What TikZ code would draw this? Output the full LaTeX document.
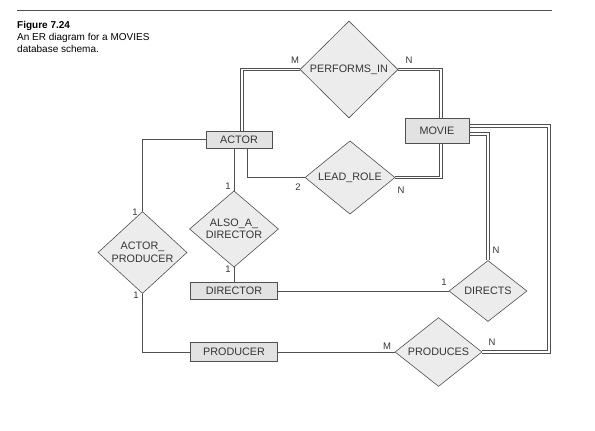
\documentclass[tikz,border=0pt]{standalone}
\usepackage{fontspec}
\setmainfont{Liberation Sans}
\usepackage{tikz}
\usetikzlibrary{shapes.geometric,backgrounds}

\definecolor{linegray}{HTML}{505050}
\definecolor{boxfill}{HTML}{E2E2E2}
\definecolor{diamfill}{HTML}{ECECEC}
\definecolor{textgray}{HTML}{353535}

\tikzset{
	entity/.style={draw=linegray, fill=boxfill, line width=0.8pt, inner sep=0pt, minimum height=17pt, text=textgray, font=\fontsize{10.8}{12}\selectfont},
	relation/.style={diamond, draw=linegray, fill=diamfill, line width=0.6pt, inner sep=0pt, align=center, text=textgray, font=\fontsize{10.8}{12.5}\selectfont},
	card/.style={inner sep=0pt, text=textgray, font=\fontsize{9.5}{10}\selectfont},
	conn/.style={draw=linegray, line width=0.8pt},
	dbl/.style={draw=linegray, line width=1.1pt, double=white, double distance=1.7pt},
}

\begin{document}
\begin{tikzpicture}[x=1pt,y=-1pt]

	\useasboundingbox (0,0) rectangle (595,431);

	\draw[linegray, line width=1pt] (17,10) -- (552,10);
	\node[anchor=north west, inner sep=0pt, align=left, text=black, font=\fontsize{10}{12}\selectfont] (caption) at (17,21)
		{\textbf{Figure 7.24}\\An ER diagram for a MOVIES\\database schema.};

	% entities
	\node[entity, minimum width=66pt] (actor) at (239,139.5) {ACTOR};
	\node[entity, minimum width=64pt, minimum height=25pt] (movie) at (437,130.5) {MOVIE};
	\node[entity, minimum width=87pt] (director) at (234,291) {DIRECTOR};
	\node[entity, minimum width=87pt, minimum height=19pt] (producer) at (234,352) {PRODUCER};

	% relationships
	\node[relation, minimum width=98pt, minimum height=97pt] (performs) at (349,69.5) {PERFORMS\_IN};
	\node[relation, minimum width=90pt, minimum height=70pt] (lead) at (350,177.5) {LEAD\_ROLE};
	\node[relation, minimum width=89pt, minimum height=68pt] (also) at (234,229) {ALSO\_A\_\\DIRECTOR};
	\node[relation, minimum width=89pt, minimum height=69pt] (actprod) at (142.5,252.5) {ACTOR\_\\PRODUCER};
	\node[relation, minimum width=78pt, minimum height=61pt] (directs) at (488,291) {DIRECTS};
	\node[relation, minimum width=87pt, minimum height=68pt] (produces) at (438.5,352) {PRODUCES};

	% attachment points on the boxes
	\coordinate (rim) at (549,126);
	\coordinate (actortop) at (242,131);
	\coordinate (actorbot) at (247,148);
	\coordinate (movietop) at (441,118);
	\coordinate (moviebot) at (441,143);
	\coordinate (movieup) at (469,126);
	\coordinate (moviedown) at (469,134);

	% connectors behind the boxes
	\begin{scope}[on background layer]
		\draw[dbl] (actortop) |- (performs.west);
		\draw[dbl] (performs.east) -| (movietop);
		\draw[conn] (actorbot) |- (lead.west);
		\draw[dbl] (lead.east) -| (moviebot);
		\draw[conn] (also.north |- actor.south) -- (also.north);
		\draw[conn] (also.south) -- (director.north);
		\draw[conn] (actor.west) -| (actprod.north);
		\draw[conn] (actprod.south) |- (producer.west);
		\draw[conn] (director.east) -- (directs.west);
		\draw[conn] (producer.east) -- (produces.west);
		\draw[dbl] (moviedown) -| (directs.north);
		\draw[dbl] (movieup) -- (rim) |- (produces.east);
	\end{scope}

	% cardinalities
	\node[card] (cpm) at (295,60) {M};
	\node[card] (cpn) at (409,60) {N};
	\node[card] (cl2) at (298,187) {2};
	\node[card] (cln) at (401,190) {N};
	\node[card] (ca1) at (228,186) {1};
	\node[card] (cd1) at (228,269) {1};
	\node[card] (cap1) at (135,212) {1};
	\node[card] (cpr1) at (136,295) {1};
	\node[card] (cdn) at (496,250) {N};
	\node[card] (cdi1) at (444,282) {1};
	\node[card] (cpsm) at (387,346) {M};
	\node[card] (cpsn) at (492,342) {N};

\end{tikzpicture}
\end{document}
